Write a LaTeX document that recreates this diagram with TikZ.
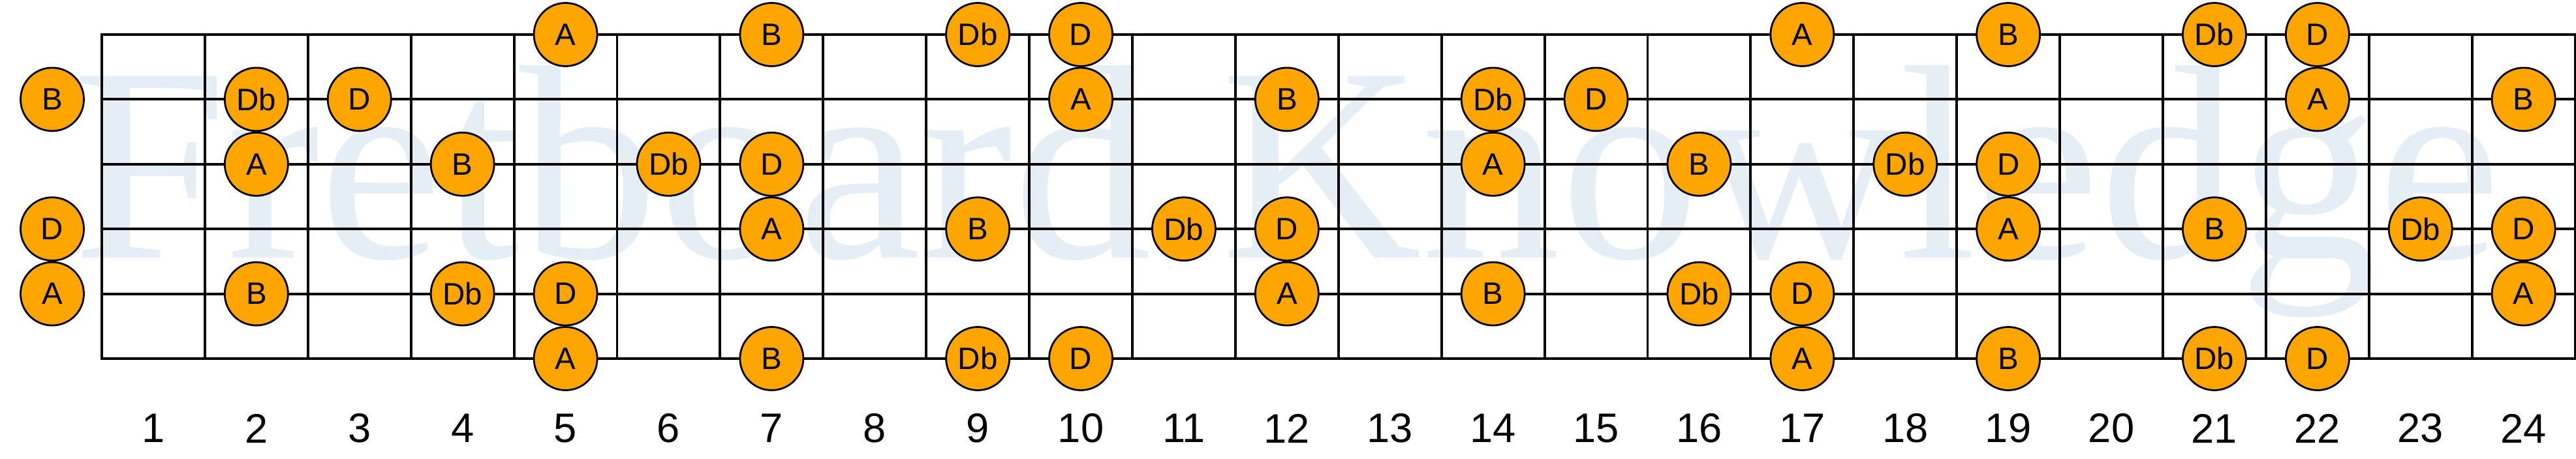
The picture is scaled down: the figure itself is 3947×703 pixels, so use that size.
\documentclass[tikz,border=0pt]{standalone}
\usepackage{fontspec}
\setmainfont{Liberation Sans}
\newfontfamily\wmfont{Liberation Serif}
\usetikzlibrary{positioning}
\definecolor{noteorange}{RGB}{255,165,0}
\definecolor{wmblue}{RGB}{229,238,245}
\tikzset{
  note/.style={circle,draw,line width=0.8pt,fill=noteorange,minimum size=9.7mm,
    inner sep=0pt,font=\fontsize{13.5}{14}\selectfont},
  fretline/.style={line width=1.1pt,line cap=rect},
  fretnum/.style={inner sep=0pt,font=\fontsize{18}{18}\selectfont},
  watermark/.style={anchor=base west,inner sep=0pt,text=wmblue,
    font=\wmfont\fontsize{121}{121}\selectfont}
}

\begin{document}
\begin{tikzpicture}[x=0.1mm,y=-0.1mm]
\useasboundingbox (0,0) rectangle (3947,703);
\node[watermark] (wm) at (111,395) {Fretboard Knowledge};
% strings
\foreach \s in {1,...,6} {
  \coordinate (s\s-l) at (156,{53+99.4*(\s-1)});
  \coordinate (s\s-r) at (3945.6,{53+99.4*(\s-1)});
  \draw[fretline] (s\s-l) -- (s\s-r);
}
% frets
\foreach \f in {0,...,24} {
  \coordinate (f\f-t) at ({156+157.9*\f},53);
  \coordinate (f\f-b) at ({156+157.9*\f},550);
  \draw[fretline] (f\f-t) -- (f\f-b);
}
% notes, fret 0 = open string
\foreach \s/\notes in {
  1/{5/A,7/B,9/Db,10/D,17/A,19/B,21/Db,22/D},
  2/{0/B,2/Db,3/D,10/A,12/B,14/Db,15/D,22/A,24/B},
  3/{2/A,4/B,6/Db,7/D,14/A,16/B,18/Db,19/D},
  4/{0/D,7/A,9/B,11/Db,12/D,19/A,21/B,23/Db,24/D},
  5/{0/A,2/B,4/Db,5/D,12/A,14/B,16/Db,17/D,24/A},
  6/{5/A,7/B,9/Db,10/D,17/A,19/B,21/Db,22/D}} {
  \foreach \f/\n in \notes {
    \pgfmathsetmacro{\xx}{\f==0 ? 80 : 156+157.9*(\f-0.5)}
    \node[note] (n\s-\f) at (\xx,{53+99.4*(\s-1)}) {\n};
  }
}
\foreach \f in {1,...,24}
  \node[fretnum] (num\f) at ({156+157.9*(\f-0.5)},657) {\f};
\end{tikzpicture}
\end{document}
